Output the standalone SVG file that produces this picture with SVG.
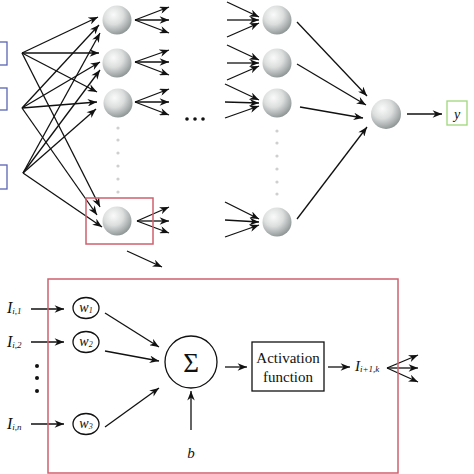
<svg xmlns="http://www.w3.org/2000/svg" width="474" height="474" viewBox="0 0 474 474">
<style>
.ln{stroke:#111;stroke-width:1.3;fill:none}
.ar{stroke:#111;stroke-width:1.3;fill:none;marker-end:url(#ah)}
.sph{fill:url(#sph)}
.gd{fill:#cfcfcf}
.bd{fill:#111}
.blue{fill:#fff;stroke:#5a64b4;stroke-width:1.3}
.red{fill:none;stroke:#d0606e;stroke-width:1.5}
.it{font-family:"Liberation Serif",serif;font-style:italic;fill:#111}
.rm{font-family:"Liberation Serif",serif;fill:#111}
.circ{fill:#fff;stroke:#111;stroke-width:1.3}
</style>
<defs>
<radialGradient id="sph" cx="0.38" cy="0.32" r="0.75">
<stop offset="0" stop-color="#fafafa"/>
<stop offset="0.45" stop-color="#dcdede"/>
<stop offset="1" stop-color="#858c8c"/>
</radialGradient>
<marker id="ah" viewBox="0 0 10 8" refX="10" refY="4" markerWidth="10" markerHeight="7.5" orient="auto" markerUnits="userSpaceOnUse">
<path d="M0,0 L10,4 L0,8 L3,4 z" fill="#111"/>
</marker>
</defs>
<rect width="474" height="474" fill="#fff"/>

<g id="inputs">
<rect class="blue" x="-2" y="42" width="9" height="23"/>
<rect class="blue" x="-2" y="88" width="9" height="22"/>
<rect class="blue" x="-2" y="165" width="9" height="24"/>
</g>

<g id="connectors">
<line class="ar" x1="22" y1="53" x2="98" y2="17"/>
<line class="ar" x1="22" y1="108" x2="99" y2="25"/>
<line class="ar" x1="23" y1="173" x2="100" y2="33"/>
<line class="ar" x1="22" y1="53" x2="99" y2="53"/>
<line class="ar" x1="22" y1="108" x2="100" y2="62"/>
<line class="ar" x1="23" y1="173" x2="100" y2="70"/>
<line class="ar" x1="22" y1="53" x2="97" y2="92"/>
<line class="ar" x1="22" y1="108" x2="97" y2="102"/>
<line class="ar" x1="23" y1="173" x2="96" y2="109"/>
<line class="ar" x1="22" y1="53" x2="100" y2="207"/>
<line class="ar" x1="22" y1="108" x2="97" y2="215"/>
<line class="ar" x1="23" y1="173" x2="102" y2="227"/>
<line class="ar" x1="135" y1="20" x2="169" y2="7"/>
<line class="ar" x1="135" y1="20" x2="169" y2="20"/>
<line class="ar" x1="135" y1="20" x2="169" y2="33"/>
<line class="ar" x1="135" y1="62" x2="169" y2="50"/>
<line class="ar" x1="135" y1="62" x2="169" y2="62"/>
<line class="ar" x1="135" y1="62" x2="169" y2="75"/>
<line class="ar" x1="135" y1="102" x2="169" y2="89"/>
<line class="ar" x1="135" y1="102" x2="169" y2="102"/>
<line class="ar" x1="135" y1="102" x2="169" y2="115"/>
<line class="ar" x1="137" y1="221" x2="169" y2="207"/>
<line class="ar" x1="137" y1="221" x2="169" y2="221"/>
<line class="ar" x1="137" y1="221" x2="169" y2="233"/>
<line class="ar" x1="127" y1="251" x2="162" y2="267"/>
<line class="ar" x1="227" y1="2" x2="259" y2="17"/>
<line class="ar" x1="227" y1="20" x2="259" y2="20"/>
<line class="ar" x1="227" y1="37" x2="259" y2="23"/>
<line class="ar" x1="227" y1="45" x2="259" y2="60"/>
<line class="ar" x1="227" y1="63" x2="259" y2="63"/>
<line class="ar" x1="227" y1="80" x2="259" y2="66"/>
<line class="ar" x1="225" y1="84" x2="259" y2="100"/>
<line class="ar" x1="225" y1="102" x2="259" y2="103"/>
<line class="ar" x1="225" y1="118" x2="259" y2="106"/>
<line class="ar" x1="225" y1="202" x2="259" y2="219"/>
<line class="ar" x1="225" y1="220" x2="259" y2="222"/>
<line class="ar" x1="225" y1="237" x2="259" y2="225"/>
<line class="ar" x1="297" y1="22" x2="367" y2="96"/>
<line class="ar" x1="297" y1="64" x2="366" y2="105"/>
<line class="ar" x1="300" y1="107" x2="363" y2="118"/>
<line class="ar" x1="297" y1="219" x2="367" y2="127"/>
<line class="ar" x1="407" y1="114" x2="442" y2="114"/>
<line class="ar" x1="31" y1="309" x2="64" y2="309"/>
<line class="ar" x1="31" y1="342" x2="64" y2="342"/>
<line class="ar" x1="31" y1="424" x2="64" y2="424"/>
<line class="ar" x1="105" y1="313" x2="159" y2="347"/>
<line class="ar" x1="105" y1="351" x2="159" y2="361"/>
<line class="ar" x1="105" y1="427" x2="159" y2="388"/>
<line class="ar" x1="191" y1="430" x2="191" y2="391"/>
<line class="ar" x1="225" y1="367" x2="247" y2="367"/>
<line class="ar" x1="328" y1="367" x2="350" y2="367"/>
<line class="ar" x1="387" y1="368" x2="418" y2="355"/>
<line class="ar" x1="387" y1="368" x2="418" y2="368"/>
<line class="ar" x1="387" y1="368" x2="418" y2="382"/>
</g>

<g id="layer1">
<circle class="sph" cx="117" cy="20" r="14.5"/>
<circle class="sph" cx="117" cy="63" r="14.5"/>
<circle class="sph" cx="118" cy="103" r="14.5"/>
<circle class="sph" cx="117" cy="221" r="14.5"/>
<circle class="gd" cx="118" cy="128" r="1.6"/>
<circle class="gd" cx="118" cy="140" r="1.6"/>
<circle class="gd" cx="118" cy="153" r="1.6"/>
<circle class="gd" cx="118" cy="166" r="1.6"/>
<circle class="gd" cx="118" cy="179" r="1.6"/>
<circle class="gd" cx="118" cy="192" r="1.6"/>
<rect class="red" x="86" y="198" width="67" height="46"/>
</g>

<g id="ellipsis">
<circle class="bd" cx="187" cy="119" r="1.8"/>
<circle class="bd" cx="195" cy="119" r="1.8"/>
<circle class="bd" cx="203" cy="119" r="1.8"/>
</g>

<g id="layer2">
<circle class="sph" cx="277" cy="20" r="14.5"/>
<circle class="sph" cx="277" cy="63" r="14.5"/>
<circle class="sph" cx="277" cy="103" r="14.5"/>
<circle class="sph" cx="277" cy="222" r="14.5"/>
<circle class="gd" cx="277" cy="131" r="1.6"/>
<circle class="gd" cx="277" cy="143" r="1.6"/>
<circle class="gd" cx="277" cy="156" r="1.6"/>
<circle class="gd" cx="277" cy="169" r="1.6"/>
<circle class="gd" cx="277" cy="182" r="1.6"/>
<circle class="gd" cx="277" cy="194" r="1.6"/>
</g>

<g id="output">
<circle class="sph" cx="386" cy="114" r="15"/>
<rect x="447" y="101" width="20" height="24" fill="#fff" stroke="#9fd87a" stroke-width="1.3"/>
<text class="it" x="457" y="119" font-size="14" text-anchor="middle">y</text>
</g>

<g id="detail">
<rect class="red" x="48" y="279" width="350" height="194"/>
<text class="it" x="7" y="313" font-size="16">I<tspan font-size="9" dy="1">i,1</tspan></text>
<text class="it" x="7" y="347" font-size="16">I<tspan font-size="9" dy="1">i,2</tspan></text>
<text class="it" x="7" y="429" font-size="16">I<tspan font-size="9" dy="1">i,n</tspan></text>
<circle class="bd" cx="37" cy="366" r="2"/>
<circle class="bd" cx="37" cy="378" r="2"/>
<circle class="bd" cx="37" cy="391" r="2"/>
<g id="w1"><ellipse class="circ" cx="86" cy="308" rx="13" ry="10.5"/><text class="it" x="86" y="312" font-size="14" text-anchor="middle">w<tspan font-size="8" dy="1">1</tspan></text></g>
<g id="w2"><ellipse class="circ" cx="86" cy="342" rx="13" ry="10.5"/><text class="it" x="86" y="346" font-size="14" text-anchor="middle">w<tspan font-size="8" dy="1">2</tspan></text></g>
<g id="w3"><ellipse class="circ" cx="86" cy="424" rx="13" ry="10.5"/><text class="it" x="86" y="428" font-size="14" text-anchor="middle">w<tspan font-size="8" dy="1">3</tspan></text></g>
<g id="sum"><circle class="circ" cx="191" cy="362" r="26"/><text class="rm" x="191" y="372" font-size="27" text-anchor="middle">Σ</text></g>
<text class="it" x="191" y="458" font-size="15" text-anchor="middle">b</text>
<g id="activation"><rect x="252" y="342" width="72" height="49" fill="#fff" stroke="#111" stroke-width="1.3"/>
<text class="rm" x="288" y="363" font-size="15" text-anchor="middle">Activation</text>
<text class="rm" x="288" y="382" font-size="15" text-anchor="middle">function</text></g>
<text class="it" x="355" y="371" font-size="15">I<tspan font-size="9" dy="1">i+1,k</tspan></text>
</g>
</svg>
